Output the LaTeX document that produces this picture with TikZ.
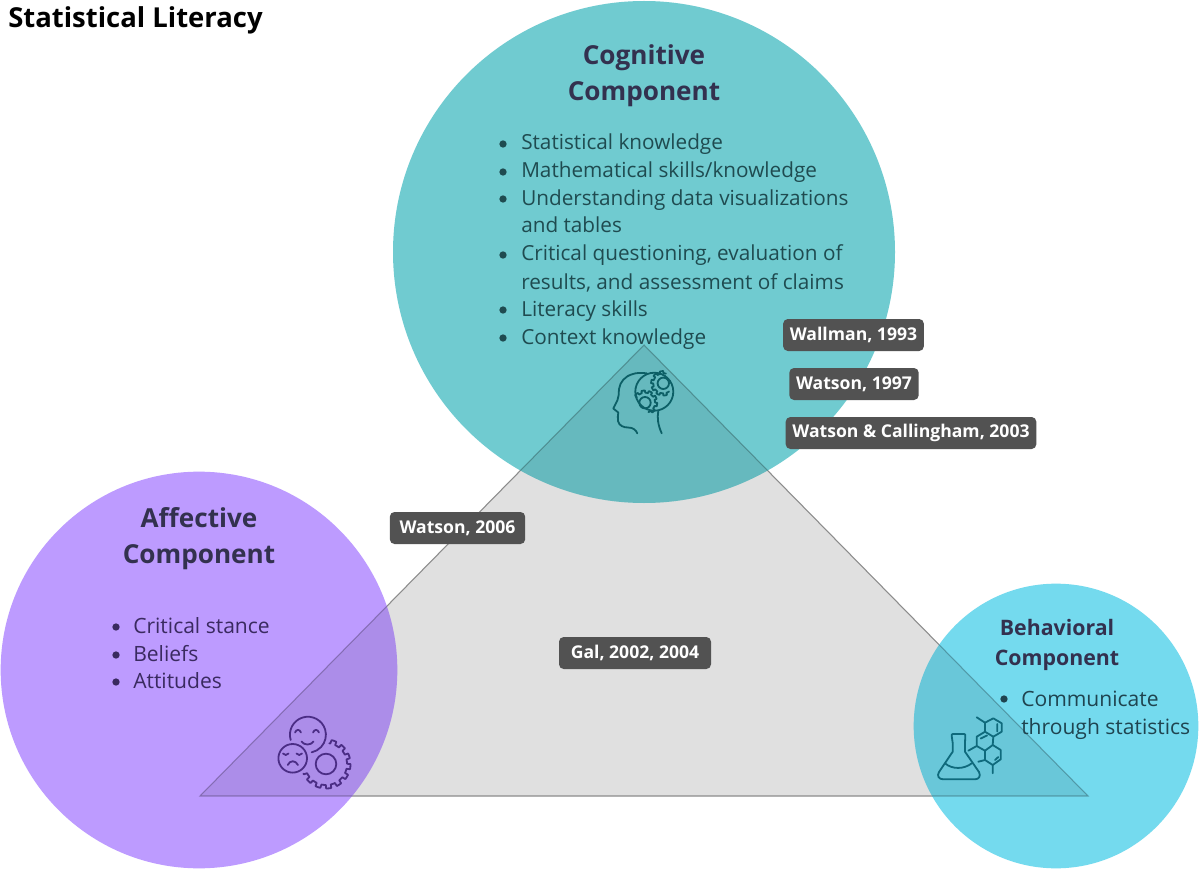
\documentclass[tikz,border=0pt]{standalone}
\usepackage{fontspec}
\setmainfont{Open Sans}
\definecolor{cogc}{HTML}{70CBD0}
\definecolor{affc}{HTML}{BD9BFF}
\definecolor{behc}{HTML}{74DAEE}
\definecolor{trig}{HTML}{E0E0E0}
\definecolor{headtxt}{HTML}{33314F}
\definecolor{cogtxt}{HTML}{1F4B50}
\definecolor{afftxt}{HTML}{3A2A60}
\definecolor{behtxt}{HTML}{1F4450}
\definecolor{cogicon}{HTML}{0C5F66}
\definecolor{afficon}{HTML}{4B2D85}
\definecolor{behicon}{HTML}{0F6A7C}
\tikzset{
  body/.style={anchor=base west,inner sep=0pt,font=\fontsize{15.8}{15.8}\selectfont},
  cogbody/.style={anchor=base west,inner sep=0pt,font=\fontsize{15.55}{15.8}\selectfont},
  bul/.style={circle,inner sep=0pt,minimum size=5.5pt},
  heading/.style={align=center,inner sep=0pt,font=\bfseries\fontsize{19.6}{27}\selectfont},
  tag/.style={fill=black!68,text=white,rounded corners=3.5pt,inner xsep=5pt,inner ysep=0pt,minimum height=24pt,font=\bfseries\fontsize{13.2}{14}\selectfont},
  icon/.style={line width=1.35pt,line cap=round,line join=round},
}
\begin{document}
\begin{tikzpicture}[x=0.75pt,y=-0.75pt]
\useasboundingbox (0,0) rectangle (1200,870);
\fill[white] (0,0) rectangle (1200,870);
\coordinate (ta) at (644,345);
\coordinate (tl) at (200,796);
\coordinate (tr) at (1088,796);
% triangle under the circles
\fill[trig] (ta) -- (tl) -- (tr) -- cycle;
\draw[black!45,line width=.8pt] (ta) -- (tl) -- (tr) -- cycle;
% circles
\node[circle,fill=cogc,minimum size=376.5pt,inner sep=0pt] (cog) at (644,252) {};
\node[circle,fill=affc,minimum size=297.5pt,inner sep=0pt] (aff) at (199,670) {};
\node[circle,fill=behc,minimum size=213.5pt,inner sep=0pt] (beh) at (1056,726) {};
% triangle seen through the circles
\begin{scope}
\clip (ta) -- (tl) -- (tr) -- cycle;
\fill[black,opacity=.085] (644,252) circle (251);
\fill[black,opacity=.085] (199,670) circle (198.3);
\fill[black,opacity=.085] (1056,726) circle (142.3);
\end{scope}
\begin{scope}
\clip (644,252) circle (251) (199,670) circle (198.3) (1056,726) circle (142.3);
\draw[black,opacity=.25,line width=.8pt] (ta) -- (tl) -- (tr) -- cycle;
\end{scope}
% title
\node[anchor=base west,inner sep=0pt,font=\bfseries\fontsize{20.6}{20.6}\selectfont,text=black] (title) at (8,28) {Statistical Literacy};
% headings
\node[heading,text=headtxt] (coghead) at (644,76) {Cognitive\\Component};
\node[heading,text=headtxt] (affhead) at (199,539) {Affective\\Component};
\node[heading,text=headtxt,font=\bfseries\fontsize{16}{22.5}\selectfont] (behhead) at (1057,645) {Behavioral\\Component};
% cognitive list
\begin{scope}[text=cogtxt]
\node[cogbody] (c1) at (521,150) {Statistical knowledge};
\node[cogbody] (c2) at (521,178) {Mathematical skills/knowledge};
\node[cogbody] (c3) at (521,205) {Understanding data visualizations};
\node[cogbody] (c3b) at (521,233) {and tables};
\node[cogbody] (c4) at (521,261) {Critical questioning, evaluation of};
\node[cogbody] (c4b) at (521,289) {results, and assessment of claims};
\node[cogbody] (c5) at (521,316) {Literacy skills};
\node[cogbody] (c6) at (521,344) {Context knowledge};
\foreach \n/\yy in {1/144,2/172,3/199,4/255,5/310,6/338}
  \node[bul,fill=cogtxt] (cb\n) at (503,\yy) {};
\end{scope}
% affective list
\begin{scope}[text=afftxt]
\node[body] (a1) at (133,633) {Critical stance};
\node[body] (a2) at (133,661) {Beliefs};
\node[body] (a3) at (133,688) {Attitudes};
\foreach \n/\yy in {1/627,2/655,3/682}
  \node[bul,fill=afftxt] (ab\n) at (116,\yy) {};
\end{scope}
% behavioural list
\begin{scope}[text=behtxt]
\node[body] (b1) at (1021,706) {Communicate};
\node[body] (b2) at (1021,734) {through statistics};
\node[bul,fill=behtxt] (bb1) at (1004,699) {};
\end{scope}
% tags
\node[tag] (t1) at (853.5,335) {Wallman, 1993};
\node[tag] (t2) at (854,384) {Watson, 1997};
\node[tag] (t3) at (911,433) {Watson \& Callingham, 2003};
\node[tag,minimum width=101.5pt] (t4) at (457.5,528) {Watson, 2006};
\node[tag,minimum width=114pt] (t5) at (635,653) {Gal, 2002, 2004};
% head icon
\begin{scope}[icon,draw=cogicon]
\draw (654.3,391.7) circle (19);
\draw (646.7,373.3) .. controls (640,372.5) and (636,373) .. (633,374) .. controls (625,376) and (620,382) .. (619,389) .. controls (618.5,394) and (619,397) .. (617.5,400) -- (613.3,408.5) -- (618.3,412.5) .. controls (618.5,415) and (617,418) .. (618,421) .. controls (619,426) and (624,427.5) .. (628,427.5) .. controls (633,427.5) and (636,430) .. (637.3,433.3);
\draw (658.3,411) .. controls (657,418) and (658,425) .. (661.7,433.3);
\draw[domain=55:285,samples=181] plot ({663.3+(10+2.2*(sin(10*\x)>0))*cos(\x)},{383.3+(10+2.2*(sin(10*\x)>0))*sin(\x)});
\draw (663.3,383.3) circle (5.7);
\draw[domain=-150:70,samples=181] plot ({645+(10+2.2*(sin(10*\x)>0))*cos(\x)},{402.7+(10+2.2*(sin(10*\x)>0))*sin(\x)});
\draw (645,402.7) circle (5.7);
\end{scope}
% emotion icon
\begin{scope}[icon,draw=afficon]
\draw (292.7,758.3) circle (14.3);
\draw (290.7,740) arc (163:438:18);
\draw (295,732.5) .. controls (296.5,729) and (299.5,729) .. (301,732.5);
\draw (313,732.5) .. controls (314.5,729) and (317.5,729) .. (319,732.5);
\draw (301.5,741.5) .. controls (304,745.5) and (311,745.5) .. (313.5,741.5);
\draw (283,753.5) .. controls (284.5,755.5) and (287,755.5) .. (288.5,753.5);
\draw (296.5,753.5) .. controls (298,755.5) and (300.5,755.5) .. (302,753.5);
\draw (287.7,765) .. controls (290,760) and (295.5,760) .. (298,765);
\draw (326,764) circle (10.3);
\draw[domain=-81:157,samples=241] plot ({326+(21+3.5*(sin(14*\x)>0))*cos(\x)},{764+(21+3.5*(sin(14*\x)>0))*sin(\x)});
\end{scope}
% science icon
\begin{scope}[icon,draw=behicon]
\draw (952.7,751.7) -- (952.7,743) -- (951.7,736) .. controls (951.5,734.5) and (952,734) .. (953,734) -- (964,734) .. controls (965,734) and (965.5,734.5) .. (965.3,736) -- (965,743) -- (965,751.7) -- (979,772) .. controls (981,776) and (979,779.3) .. (975,779.3) -- (943.3,779.3) .. controls (939,779.3) and (936.5,776) .. (939,772) -- cycle;
\draw (945,763.3) .. controls (952,769.5) and (964,769.5) .. (971.7,763.3);
\draw (985,722.7) -- (993.3,718.3) -- (1001.7,723.3) -- (1001.7,731.7) -- (993.3,736.7) -- (985,731.7) -- cycle;
\draw (985,731.7) -- (976.7,736.7) -- (976.7,746) -- (985,750.7) -- (992.7,745) -- (993.3,736.7);
\draw (992.7,745) -- (1000.7,750) -- (1000.7,759.3) -- (992.7,765) -- (985,760) -- (985,750.7);
\draw (976.7,717.3) -- (985,722.7) (968.3,750.7) -- (976.7,746) (978.3,761.7) -- (985,760) (992.7,773.3) -- (992.7,765);
\draw (997.3,724) -- (997.3,731.5) (980.7,738.5) -- (987,735.5) (995,760) -- (998.3,757);
\end{scope}
\end{tikzpicture}
\end{document}
